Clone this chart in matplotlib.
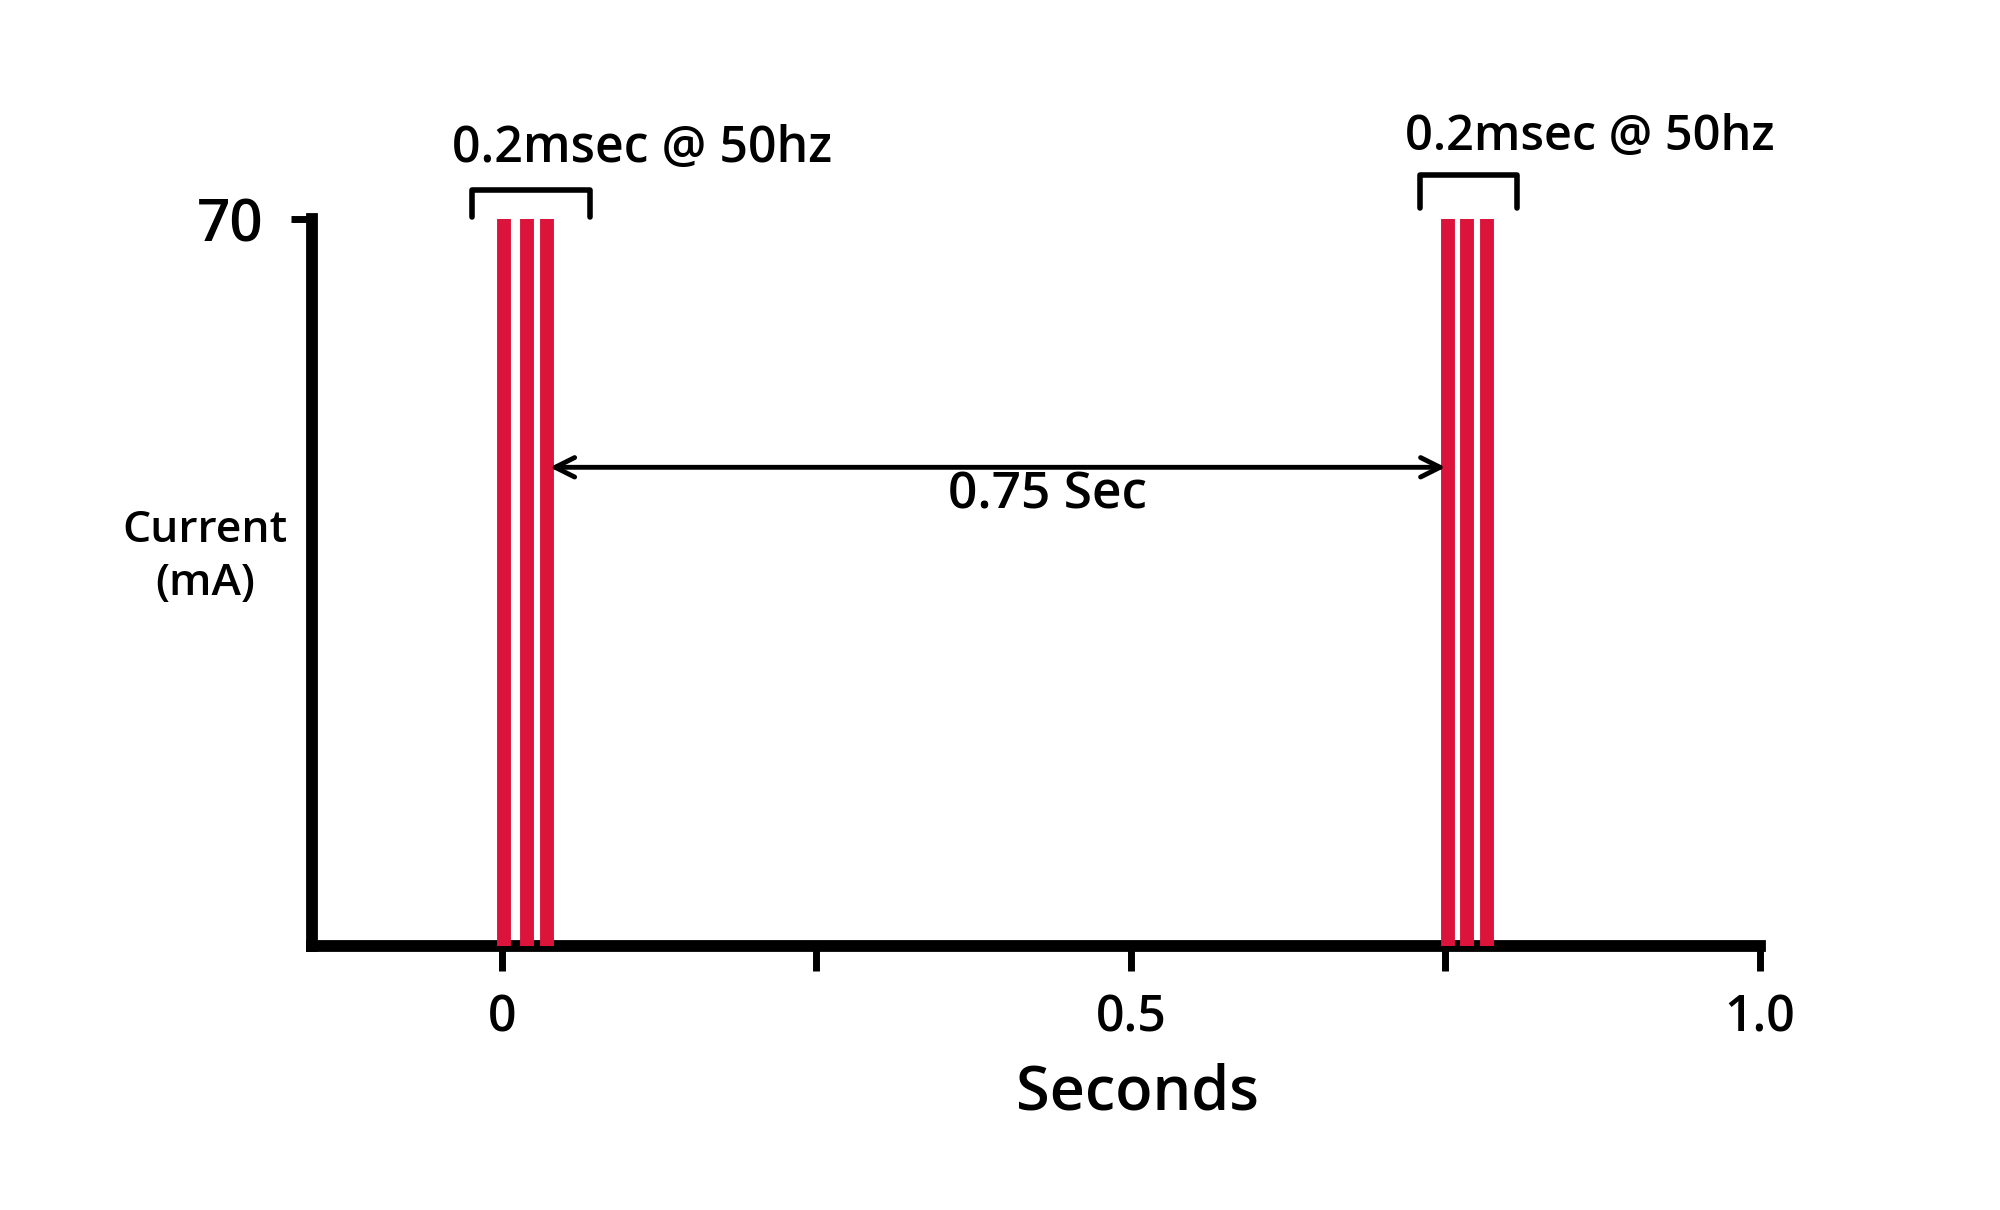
import matplotlib.pyplot as plt

# pulse trains (seconds) and their current (mA)
burst_1 = [0.002, 0.020, 0.036]
burst_2 = [0.752, 0.767, 0.783]
amplitude = 70

x_ticks = [0, 0.25, 0.5, 0.75, 1.0]
x_tick_labels = ['0', '', '0.5', '', '1.0']
y_ticks = [70]
y_tick_labels = ['70']

burst_label = '0.2msec @ 50hz'
gap_label = '0.75 Sec'

red = '#dc143c'
plt.rcParams['font.family'] = ['Open Sans', 'DejaVu Sans']
plt.rcParams['font.weight'] = 'semibold'

fig = plt.figure(figsize=(20, 12.1), dpi=100)
ax = fig.add_axes([0.156, 0.218, 0.724, 0.601])

for burst in (burst_1, burst_2):
    ax.vlines(burst, 0, amplitude, colors=red, linewidth=10,
              capstyle='round', zorder=3)

ax.set_xlim(-0.151, 1.0)
ax.set_ylim(0, 70)

for side in ('top', 'right'):
    ax.spines[side].set_visible(False)
for side in ('left', 'bottom'):
    ax.spines[side].set_linewidth(8.5)
    ax.spines[side].set_capstyle('projecting')

ax.set_xticks(x_ticks)
ax.set_xticklabels(x_tick_labels, fontsize=36)
ax.set_yticks(y_ticks)
ax.set_yticklabels(y_tick_labels, fontsize=42)
ax.tick_params(axis='x', direction='out', length=18, width=5, pad=16)
ax.tick_params(axis='y', direction='out', length=15, width=5, pad=20)

ax.set_xlabel('Seconds', fontsize=44, fontweight='semibold')
ax.xaxis.set_label_coords(0.570, -0.16)
ax.text(-0.236, 37.5, 'Current\n(mA)', fontsize=32, ha='center', va='center',
        linespacing=1.3)

# brackets over each burst
brackets = [(-0.024, 0.070, 72.8, 70.2), (0.730, 0.807, 74.2, 71.1)]
for x0, x1, top, bottom in brackets:
    ax.plot([x0, x0, x1, x1], [bottom, top, top, bottom], color='black',
            linewidth=4, clip_on=False, solid_capstyle='round',
            solid_joinstyle='round')

ax.text(0.111, 76.7, burst_label, fontsize=36, ha='center', va='center')
ax.text(0.865, 77.8, burst_label, fontsize=35, ha='center', va='center')

# interval arrow between bursts
ax.annotate('', xy=(burst_1[-1] + 0.002, 46.1), xytext=(burst_2[0] - 0.002, 46.1),
            arrowprops=dict(arrowstyle='<->,head_length=1.4,head_width=0.7',
                            color='black', lw=3.5, shrinkA=0, shrinkB=0))
ax.text(0.434, 43.4, gap_label, fontsize=37, ha='center', va='center')

fig.savefig('out.png', dpi=100, facecolor='white')
